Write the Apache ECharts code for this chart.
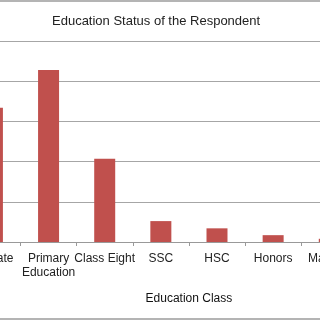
<!DOCTYPE html>
<html><head><meta charset="utf-8">
<script src="https://cdn.jsdelivr.net/npm/echarts@6/dist/echarts.min.js"></script>
<style>
html,body{margin:0;padding:0;width:320px;height:320px;overflow:hidden;background:#fff;position:relative}
#c{position:absolute;left:-60px;top:0;width:520px;height:320px}
</style></head>
<body><div id="c"></div>
<script>
var categories = ['Illiterate', 'Primary\nEducation', 'Class Eight', 'SSC', 'HSC', 'Honors', 'Masters', 'PhD'];
var values = [33.4, 42.8, 20.7, 5.2, 3.4, 1.7, 0.8, 0.3];
var yTicks = [0, 10, 20, 30, 40, 50];

var chart = echarts.init(document.getElementById('c'), null, {renderer: 'canvas'});
var font = 'Liberation Sans, Arial, sans-serif';
chart.setOption({
  animation: false,
  backgroundColor: '#fff',
  title: {
    text: 'Education Status of the Respondent',
    left: 107, top: 10,
    textStyle: {fontFamily: font, fontSize: 13, fontWeight: 'normal', color: '#222'}
  },
  grid: {left: 20.5, right: 46.5, top: 41, bottom: 78, containLabel: false},
  xAxis: {
    type: 'category',
    data: categories,
    name: 'Education Class',
    nameLocation: 'middle',
    nameGap: 51,
    nameTextStyle: {fontFamily: font, fontSize: 12, color: '#111'},
    axisLine: {lineStyle: {color: '#999', width: 1}},
    axisTick: {show: true, length: 4, lineStyle: {color: '#999'}},
    axisLabel: {fontFamily: font, fontSize: 12, color: '#222', margin: 10, lineHeight: 14, interval: 0}
  },
  yAxis: {
    type: 'value',
    min: yTicks[0], max: yTicks[yTicks.length - 1], interval: 10,
    axisLine: {show: true, lineStyle: {color: '#999'}},
    splitLine: {lineStyle: {color: '#a6a6a6', width: 1}},
    axisLabel: {fontFamily: font, fontSize: 12, color: '#222'}
  },
  series: [{
    type: 'bar',
    data: values,
    barWidth: 21,
    itemStyle: {color: '#c0504d'}
  }],
  graphic: [
    {type: 'rect', left: 60, top: 0, shape: {width: 320, height: 2}, style: {fill: '#b4b4b4'}},
    {type: 'rect', left: 60, top: 318, shape: {width: 320, height: 2}, style: {fill: '#b4b4b4'}}
  ]
});
</script>
</body></html>
